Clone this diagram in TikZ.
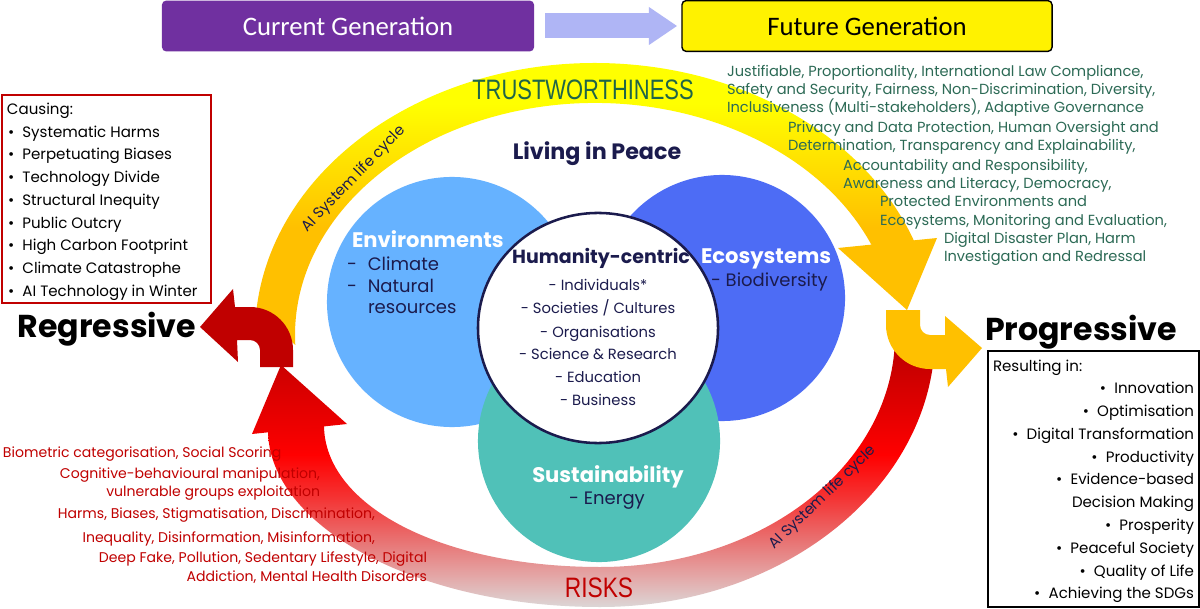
\documentclass[tikz,border=0pt]{standalone}
\usepackage{fontspec}
\setmainfont{Poppins}
\newfontfamily\carlito{Carlito}
\newfontfamily\narrowsans{Liberation Sans}
\usetikzlibrary{arrows.meta,shapes.geometric}

\definecolor{genpurple}{HTML}{7030A0}
\definecolor{genarrowblue}{HTML}{AFB5F5}
\definecolor{ygold}{HTML}{FFC000}
\definecolor{darkred}{HTML}{C00000}
\definecolor{envblue}{HTML}{66B2FF}
\definecolor{ecoblue}{HTML}{4D6CF5}
\definecolor{susteal}{HTML}{50C1B8}
\definecolor{navy}{HTML}{1B1B4D}
\definecolor{trustgreen}{HTML}{2C6A55}
\definecolor{titlegreen}{HTML}{1F6548}
\definecolor{rgray}{HTML}{DCD6D6}
\definecolor{rpink}{HTML}{E4A4A4}
\definecolor{rsalmon}{HTML}{E87474}
\definecolor{rlight}{HTML}{F43434}
\definecolor{rbright}{HTML}{FF0000}
\definecolor{rmid}{HTML}{E00000}
\definecolor{headtop}{HTML}{CC0000}
\definecolor{headbot}{HTML}{F20000}

\pgfdeclareverticalshading{trustshade}{100bp}{color(0bp)=(ygold); color(45bp)=(ygold); color(66bp)=(yellow); color(100bp)=(yellow)}
\pgfdeclareverticalshading{riskshade}{100bp}{color(0bp)=(rgray); color(25bp)=(rgray); color(31bp)=(rpink); color(37bp)=(rsalmon); color(45bp)=(rlight); color(53bp)=(rbright); color(62bp)=(rmid); color(72bp)=(darkred); color(100bp)=(darkred)}

\newcommand{\itembul}{\makebox[0.36cm][l]{\textbullet}}
\newcommand{\itemdash}{\makebox[0.52cm][l]{-}}

\begin{document}
\begin{tikzpicture}[x=0.025cm, y=0.025cm, line join=miter,
    every node/.style={inner sep=0pt, outer sep=0pt},
    genbox/.style={rounded corners=3pt, minimum height=1.27cm, font=\carlito\fontsize{19}{22}\selectfont},
    genarrow/.style={line width=0.625cm, genarrowblue, -{Triangle[length=0.7cm 0 0, width=0.95cm 0 0, line width=0pt]}, shorten <=0.275cm, shorten >=0.125cm},
    listtext/.style={font=\fontsize{10.7}{13}\selectfont},
    greentext/.style={text=trustgreen, font=\fontsize{10.4}{12}\selectfont, anchor=base west},
    risktext/.style={text=darkred, font=\fontsize{10}{12}\selectfont, anchor=base east},
    circtitle/.style={text=white, font=\bfseries\fontsize{15}{18}\selectfont},
    circitem/.style={text=navy, font=\fontsize{12.8}{15}\selectfont},
    humitem/.style={text=navy, font=\fontsize{10.5}{13}\selectfont, anchor=base},
    navytitle/.style={text=navy, font=\bfseries\fontsize{13.5}{16}\selectfont},
    lifecycle/.style={text=navy, font=\fontsize{10.6}{12}\selectfont},
    bigword/.style={font=\bfseries\fontsize{22.5}{26}\selectfont, anchor=base},
    condensed/.style={font=\narrowsans\fontsize{20}{24}\selectfont, anchor=base}]
    \path[use as bounding box, fill=white] (0,0) rectangle (1200,-609);

    % generations
    \node[genbox, fill=genpurple, text=white, minimum width=9.3cm] (cur) at (348,-26) {Current Generation};
    \node[genbox, fill=yellow, draw=black, line width=1pt, minimum width=9.25cm] (fut) at (867,-26) {Future Generation};
    \draw[genarrow] (cur) -- (fut);

    % the four circles
    \node[circle, fill=envblue, minimum size=6.25cm] (env) at (452,-302) {};
    \node[circle, fill=ecoblue, minimum size=6.15cm] (eco) at (722,-298) {};
    \node[circle, fill=susteal, minimum size=6.05cm] (sus) at (599,-441) {};
    \node[ellipse, fill=white, draw=navy, line width=1.8pt, minimum width=6.0cm, minimum height=5.75cm] (hum) at (598,-328) {};

    % trustworthiness band (yellow)
    \coordinate (ctr) at (595,-335);
    \shade[shading=trustshade] ([shift={(174.73:340 and 272)}]ctr) arc[start angle=174.73, end angle=20, x radius=340, y radius=272]
        -- ([shift={(20:300 and 232)}]ctr) arc[start angle=20, end angle=182.47, x radius=300, y radius=232] -- cycle;
    \fill[ygold] (838,-248) -- (937,-238) -- (907,-310) -- cycle;

    % risks band (red)
    \shade[shading=riskshade] (935,-335) .. controls (935,-485) and (785,-607) .. (600,-607)
        .. controls (415,-607) and (268,-525) .. (268,-430) -- (324,-425)
        .. controls (324,-505) and (440,-567) .. (600,-567)
        .. controls (765,-567) and (895,-463) .. (895,-335) -- cycle;
    \shade[top color=headtop, bottom color=headbot] (252,-434) -- (347,-424) -- (281,-365) -- cycle;

    % turning arrows
    \fill[darkred] (293,-367) -- (293,-350) arc[start angle=0, end angle=90, radius=43] -- (235,-307) -- (233,-289)
        -- (200,-327) -- (238,-362) -- (237,-340) -- (250,-340) arc[start angle=90, end angle=0, radius=10] -- (260,-367) -- cycle;
    \fill[ygold] (886,-310) -- (886,-325) arc[start angle=180, end angle=270, radius=44] -- (946,-369) -- (948,-387)
        -- (982,-348) -- (945,-316) -- (945,-335) -- (930,-335) arc[start angle=270, end angle=180, radius=10] -- (920,-310) -- cycle;

    % band labels
    \node[condensed, text=titlegreen] (trust) at (583,-100) {\scalebox{0.78}[1]{TRUSTWORTHINESS}};
    \node[condensed, text=darkred] (risks) at (599,-597) {\scalebox{0.81}[1]{RISKS}};
    \node[lifecycle, rotate=46] (cycletop) at (354,-179) {AI System life cycle};
    \node[lifecycle, rotate=44] (cyclebot) at (823,-498) {AI System life cycle};

    % circle texts
    \node[navytitle, anchor=base, font=\bfseries\fontsize{15.8}{18}\selectfont] (peace) at (597,-160) {Living in Peace};
    \node[circtitle, anchor=base west] (envtitle) at (352,-248) {Environments};
    \node[circitem, anchor=base west] (env1) at (347,-271) {\itemdash Climate};
    \node[circitem, anchor=base west] (env2) at (347,-293) {\itemdash Natural};
    \node[circitem, anchor=base west] (env3) at (368,-313) {resources};
    \node[circtitle, anchor=base west] (ecotitle) at (701,-264) {Ecosystems};
    \node[circitem, anchor=base west] (eco1) at (711,-286) {- Biodiversity};
    \node[circtitle, anchor=base] (sustitle) at (608,-482) {Sustainability};
    \node[circitem, anchor=base] (sus1) at (607,-504) {- Energy};
    \node[navytitle, anchor=base] (humtitle) at (601,-264) {Humanity-centric};
    \node[humitem] (hum1) at (598,-291) {- Individuals*};
    \node[humitem] (hum2) at (598,-314) {- Societies / Cultures};
    \node[humitem] (hum3) at (598,-337) {- Organisations};
    \node[humitem] (hum4) at (598,-359) {- Science \& Research};
    \node[humitem] (hum5) at (598,-382) {- Education};
    \node[humitem] (hum6) at (598,-405) {- Business};

    % trustworthiness principles
    \node[greentext] (trust1) at (727,-77) {Justifiable, Proportionality, International Law Compliance,};
    \node[greentext] (trust2) at (727,-95) {Safety and Security, Fairness, Non-Discrimination, Diversity,};
    \node[greentext] (trust3) at (727,-113) {Inclusiveness (Multi-stakeholders), Adaptive Governance};
    \node[greentext] (trust4) at (788,-133) {Privacy and Data Protection, Human Oversight and};
    \node[greentext] (trust5) at (788,-151) {Determination, Transparency and Explainability,};
    \node[greentext] (trust6) at (843,-171) {Accountability and Responsibility,};
    \node[greentext] (trust7) at (843,-189) {Awareness and Literacy, Democracy,};
    \node[greentext] (trust8) at (880,-207) {Protected Environments and};
    \node[greentext] (trust9) at (880,-226) {Ecosystems, Monitoring and Evaluation,};
    \node[greentext] (trust10) at (944,-244) {Digital Disaster Plan, Harm};
    \node[greentext] (trust11) at (944,-262) {Investigation and Redressal};

    % risks
    \node[risktext, anchor=base west] (risk1) at (3,-457) {Biometric categorisation, Social Scoring};
    \node[risktext] (risk2) at (320,-478) {Cognitive-behavioural manipulation,};
    \node[risktext] (risk3) at (320,-496) {vulnerable groups exploitation};
    \node[risktext] (risk4) at (375,-518) {Harms, Biases, Stigmatisation, Discrimination,};
    \node[risktext] (risk5) at (375,-542) {Inequality, Disinformation, Misinformation,};
    \node[risktext] (risk6) at (427,-562) {Deep Fake, Pollution, Sedentary Lifestyle, Digital};
    \node[risktext] (risk7) at (427,-581) {Addiction, Mental Health Disorders};

    % regressive side
    \node[bigword] (regr) at (107,-337) {Regressive};
    \node[draw=darkred, line width=1.4pt, minimum width=5.225cm, minimum height=5.2cm, anchor=north west] (causebox) at (2,-95) {};
    \node[listtext, anchor=base west] (cause0) at (7,-115) {Causing:};
    \node[listtext, anchor=base west] (cause1) at (8,-138) {\itembul Systematic Harms};
    \node[listtext, anchor=base west] (cause2) at (8,-160) {\itembul Perpetuating Biases};
    \node[listtext, anchor=base west] (cause3) at (8,-183) {\itembul Technology Divide};
    \node[listtext, anchor=base west] (cause4) at (8,-206) {\itembul Structural Inequity};
    \node[listtext, anchor=base west] (cause5) at (8,-229) {\itembul Public Outcry};
    \node[listtext, anchor=base west] (cause6) at (8,-251) {\itembul High Carbon Footprint};
    \node[listtext, anchor=base west] (cause7) at (8,-274) {\itembul Climate Catastrophe};
    \node[listtext, anchor=base west] (cause8) at (8,-297) {\itembul AI Technology in Winter};

    % progressive side
    \node[bigword] (progr) at (1081,-340) {Progressive};
    \node[draw=black, line width=1.4pt, minimum width=5.275cm, minimum height=6.4cm, anchor=north west] (resultbox) at (988,-351) {};
    \node[listtext, anchor=base west] (result0) at (993,-371) {Resulting in:};
    \node[listtext, anchor=base east] (result1) at (1194,-393) {\itembul Innovation};
    \node[listtext, anchor=base east] (result2) at (1194,-416) {\itembul Optimisation};
    \node[listtext, anchor=base east] (result3) at (1194,-439) {\itembul Digital Transformation};
    \node[listtext, anchor=base east] (result4) at (1194,-462) {\itembul Productivity};
    \node[listtext, anchor=base east] (result5) at (1194,-484) {\itembul Evidence-based};
    \node[listtext, anchor=base east] (result6) at (1194,-507) {Decision Making};
    \node[listtext, anchor=base east] (result7) at (1194,-530) {\itembul Prosperity};
    \node[listtext, anchor=base east] (result8) at (1194,-553) {\itembul Peaceful Society};
    \node[listtext, anchor=base east] (result9) at (1194,-576) {\itembul Quality of Life};
    \node[listtext, anchor=base east] (result10) at (1194,-598) {\itembul Achieving the SDGs};
\end{tikzpicture}
\end{document}
